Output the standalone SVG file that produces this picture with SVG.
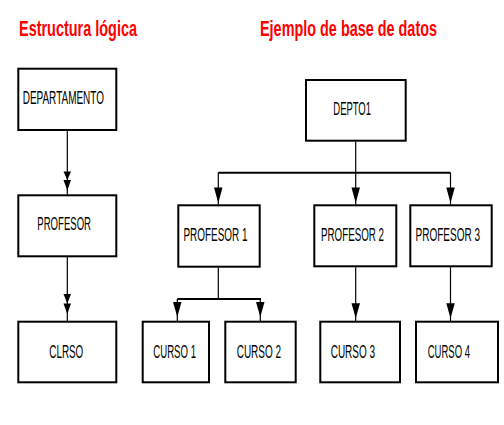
<svg xmlns="http://www.w3.org/2000/svg" width="504" height="425" viewBox="0 0 504 425">
<style>
.box{fill:#fff;stroke:#000;stroke-width:2}
.t{font-family:"Liberation Sans",Arial,sans-serif;font-size:9.75px;fill:#000}
.title{font-family:"Liberation Sans",Arial,sans-serif;font-size:14.4px;font-weight:bold;fill:#ff0000}
.thin{stroke:#000;stroke-width:1.2;fill:none}
.thick{stroke:#000;stroke-width:2;fill:none}
.ah{fill:#000}
</style>
<rect width="504" height="425" fill="#fff"/>
<text class="title" transform="translate(19,36) scale(1,1.53)" x="0" y="0" textLength="118" lengthAdjust="spacingAndGlyphs">Estructura lógica</text>
<text class="title" transform="translate(260,35.5) scale(1,1.53)" x="0" y="0" textLength="177" lengthAdjust="spacingAndGlyphs">Ejemplo de base de datos</text>

<g id="connectors">
  <line class="thin" x1="67.3" y1="131" x2="67.3" y2="194.5"/>
  <polygon class="ah" points="63.5,171.5 71,171.5 67.3,180"/>
  <polygon class="ah" points="63.5,180 71,180 67.3,190.5"/>
  <line class="thin" x1="67.3" y1="257" x2="67.3" y2="321"/>
  <polygon class="ah" points="63.5,294 71,294 67.3,303.5"/>
  <polygon class="ah" points="63.5,303.5 71,303.5 67.3,314"/>

  <line class="thin" x1="355.7" y1="141.5" x2="355.7" y2="172.7"/>
  <line class="thick" x1="218.3" y1="172.7" x2="450.5" y2="172.7"/>
  <line class="thin" x1="218.3" y1="172.7" x2="218.3" y2="204.5"/>
  <line class="thin" x1="355.7" y1="172.7" x2="355.7" y2="204.5"/>
  <line class="thin" x1="450.5" y1="172.7" x2="450.5" y2="204.5"/>
  <polygon class="ah" points="214,187.5 222.5,187.5 218.3,203"/>
  <polygon class="ah" points="351.5,187.5 360,187.5 355.7,203"/>
  <polygon class="ah" points="446.3,187.5 454.8,187.5 450.5,203"/>

  <line class="thin" x1="218.3" y1="267.5" x2="218.3" y2="299"/>
  <line class="thick" x1="177.3" y1="299" x2="261" y2="299"/>
  <line class="thin" x1="177.3" y1="299" x2="177.3" y2="321"/>
  <line class="thin" x1="260.3" y1="299" x2="260.3" y2="321"/>
  <polygon class="ah" points="173,302 181.5,302 177.3,317"/>
  <polygon class="ah" points="256,302 264.5,302 260.3,317"/>

  <line class="thin" x1="355.7" y1="267.3" x2="355.7" y2="321"/>
  <polygon class="ah" points="351.5,303.3 360,303.3 355.7,318.3"/>
  <line class="thin" x1="450.5" y1="267.3" x2="450.5" y2="321"/>
  <polygon class="ah" points="446.3,303.3 454.8,303.3 450.5,318.3"/>
</g>

<g id="departamento">
  <rect class="box" x="18.3" y="68.7" width="98" height="61.3"/>
  <text class="t" transform="translate(22.7,104) scale(1,1.95)" x="0" y="0" textLength="81.3" lengthAdjust="spacingAndGlyphs">DEPARTAMENTO</text>
</g>
<g id="profesor">
  <rect class="box" x="18.3" y="195.3" width="98" height="61"/>
  <text class="t" transform="translate(37.3,230) scale(1,1.95)" x="0" y="0" textLength="53.7" lengthAdjust="spacingAndGlyphs">PROFESOR</text>
</g>
<g id="clrso">
  <rect class="box" x="18.3" y="321.7" width="98" height="60.6"/>
  <text class="t" transform="translate(49.3,357.5) scale(1,1.95)" x="0" y="0" textLength="34" lengthAdjust="spacingAndGlyphs">CLRSO</text>
</g>
<g id="depto1">
  <rect class="box" x="306" y="80" width="99.7" height="60.7"/>
  <text class="t" transform="translate(333.3,115) scale(1,1.95)" x="0" y="0" textLength="37.7" lengthAdjust="spacingAndGlyphs">DEPTO1</text>
</g>
<g id="profesor1">
  <rect class="box" x="178.3" y="205.3" width="81.4" height="61.4"/>
  <text class="t" transform="translate(183.5,240.5) scale(1,1.95)" x="0" y="0" textLength="64" lengthAdjust="spacingAndGlyphs">PROFESOR 1</text>
</g>
<g id="profesor2">
  <rect class="box" x="314.3" y="205.3" width="82" height="61"/>
  <text class="t" transform="translate(321,241) scale(1,1.95)" x="0" y="0" textLength="63" lengthAdjust="spacingAndGlyphs">PROFESOR 2</text>
</g>
<g id="profesor3">
  <rect class="box" x="410.3" y="205.3" width="81.4" height="61"/>
  <text class="t" transform="translate(415.5,241) scale(1,1.95)" x="0" y="0" textLength="64.5" lengthAdjust="spacingAndGlyphs">PROFESOR 3</text>
</g>
<g id="curso1">
  <rect class="box" x="142.7" y="321.7" width="66.3" height="60.6"/>
  <text class="t" transform="translate(153.3,357.5) scale(1,1.95)" x="0" y="0" textLength="42.7" lengthAdjust="spacingAndGlyphs">CURSO 1</text>
</g>
<g id="curso2">
  <rect class="box" x="225.3" y="321.7" width="70.4" height="60.6"/>
  <text class="t" transform="translate(236.7,357.5) scale(1,1.95)" x="0" y="0" textLength="44.3" lengthAdjust="spacingAndGlyphs">CURSO 2</text>
</g>
<g id="curso3">
  <rect class="box" x="320.3" y="321.7" width="79.7" height="60.6"/>
  <text class="t" transform="translate(330.7,357.5) scale(1,1.95)" x="0" y="0" textLength="44.3" lengthAdjust="spacingAndGlyphs">CURSO 3</text>
</g>
<g id="curso4">
  <rect class="box" x="416" y="321.7" width="82" height="60.6"/>
  <text class="t" transform="translate(427.7,357.5) scale(1,1.95)" x="0" y="0" textLength="42.3" lengthAdjust="spacingAndGlyphs">CURSO 4</text>
</g>
</svg>
